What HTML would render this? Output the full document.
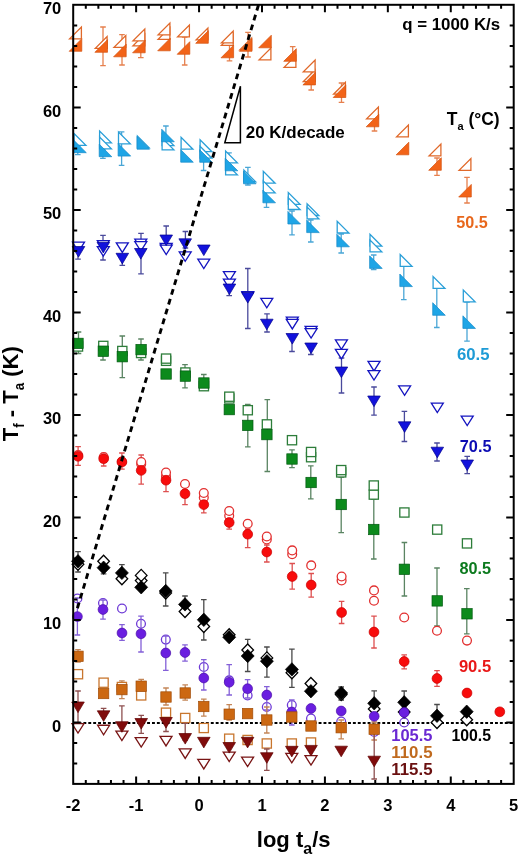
<!DOCTYPE html>
<html><head><meta charset="utf-8"><title>Tf - Ta vs log ta</title>
<style>html,body{margin:0;padding:0;background:#fff;width:520px;height:855px;overflow:hidden}svg{display:block}</style>
</head><body>
<svg width="520" height="855" viewBox="0 0 520 855">
<rect width="520" height="855" fill="#ffffff"/>
<path d="M73.6 723H512.7" stroke="#000" stroke-width="1.9" stroke-dasharray="2.9 2" fill="none"/>
<path d="M103 27V65.7M100.2 27H105.8M100.2 65.7H105.8" fill="none" stroke="#e6804e" stroke-width="1.3"/>
<path d="M95.3 48.4L107.1 48.4L107.1 36.6Z" fill="#fff" stroke="#e0692a" stroke-width="1.3"/>
<path d="M122 34.6V65M119.2 34.6H124.8M119.2 65H124.8" fill="none" stroke="#e6804e" stroke-width="1.3"/>
<path d="M114 47.4L125.8 47.4L125.8 35.6Z" fill="#fff" stroke="#e0692a" stroke-width="1.3"/>
<path d="M140.8 44V57.7M138 44H143.6M138 57.7H143.6" fill="none" stroke="#e6804e" stroke-width="1.3"/>
<path d="M133 45.9L144.8 45.9L144.8 34.1Z" fill="#fff" stroke="#e0692a" stroke-width="1.3"/>
<path d="M133 40.9L144.8 40.9L144.8 29.1Z" fill="#fff" stroke="#e0692a" stroke-width="1.3"/>
<path d="M158.1 39.4L169.9 39.4L169.9 27.6Z" fill="#fff" stroke="#e0692a" stroke-width="1.3"/>
<path d="M158.1 34.9L169.9 34.9L169.9 23.1Z" fill="#fff" stroke="#e0692a" stroke-width="1.3"/>
<path d="M184.7 37V65M181.9 37H187.5M181.9 65H187.5" fill="none" stroke="#e6804e" stroke-width="1.3"/>
<path d="M177.6 36.9L189.4 36.9L189.4 25.1Z" fill="#fff" stroke="#e0692a" stroke-width="1.3"/>
<path d="M196.1 39.9L207.9 39.9L207.9 28.1Z" fill="#fff" stroke="#e0692a" stroke-width="1.3"/>
<path d="M229.5 45V60.8M226.7 45H232.3M226.7 60.8H232.3" fill="none" stroke="#e6804e" stroke-width="1.3"/>
<path d="M221.4 45.4L233.2 45.4L233.2 33.6Z" fill="#fff" stroke="#e0692a" stroke-width="1.3"/>
<path d="M221.4 42.9L233.2 42.9L233.2 31.1Z" fill="#fff" stroke="#e0692a" stroke-width="1.3"/>
<path d="M248 32.3V57M245.2 32.3H250.8M245.2 57H250.8" fill="none" stroke="#e6804e" stroke-width="1.3"/>
<path d="M239.8 49.9L251.6 49.9L251.6 38.1Z" fill="#fff" stroke="#e0692a" stroke-width="1.3"/>
<path d="M259.1 59.9L270.9 59.9L270.9 48.1Z" fill="#fff" stroke="#e0692a" stroke-width="1.3"/>
<path d="M292.7 46.6V60M289.9 46.6H295.5M289.9 60H295.5" fill="none" stroke="#e6804e" stroke-width="1.3"/>
<path d="M284.1 67.4L295.9 67.4L295.9 55.6Z" fill="#fff" stroke="#e0692a" stroke-width="1.3"/>
<path d="M311.2 70V90M308.4 70H314M308.4 90H314" fill="none" stroke="#e6804e" stroke-width="1.3"/>
<path d="M303.3 81.7L315.1 81.7L315.1 69.9Z" fill="#fff" stroke="#e0692a" stroke-width="1.3"/>
<path d="M303.3 71.9L315.1 71.9L315.1 60.1Z" fill="#fff" stroke="#e0692a" stroke-width="1.3"/>
<path d="M341.5 83V102.3M338.7 83H344.3M338.7 102.3H344.3" fill="none" stroke="#e6804e" stroke-width="1.3"/>
<path d="M333.6 94.2L345.4 94.2L345.4 82.4Z" fill="#fff" stroke="#e0692a" stroke-width="1.3"/>
<path d="M374.5 115V131M371.7 115H377.3M371.7 131H377.3" fill="none" stroke="#e6804e" stroke-width="1.3"/>
<path d="M366.6 118.9L378.4 118.9L378.4 107.1Z" fill="#fff" stroke="#e0692a" stroke-width="1.3"/>
<path d="M396.6 136.9L408.4 136.9L408.4 125.1Z" fill="#fff" stroke="#e0692a" stroke-width="1.3"/>
<path d="M437 158V175.4M434.2 158H439.8M434.2 175.4H439.8" fill="none" stroke="#e6804e" stroke-width="1.3"/>
<path d="M429.1 155.9L440.9 155.9L440.9 144.1Z" fill="#fff" stroke="#e0692a" stroke-width="1.3"/>
<path d="M467 177.3V203M464.2 177.3H469.8M464.2 203H469.8" fill="none" stroke="#e6804e" stroke-width="1.3"/>
<path d="M459.1 170.4L470.9 170.4L470.9 158.6Z" fill="#fff" stroke="#e0692a" stroke-width="1.3"/>
<path d="M77.8 146V154.6M75 146H80.6M75 154.6H80.6" fill="none" stroke="#4aa6d6" stroke-width="1.3"/>
<path d="M74.1 133.6L74.1 145.4L85.9 145.4Z" fill="#fff" stroke="#2a9fd8" stroke-width="1.3"/>
<path d="M102.9 150V158.4M100.1 150H105.7M100.1 158.4H105.7" fill="none" stroke="#4aa6d6" stroke-width="1.3"/>
<path d="M99.6 131L99.6 142.8L111.4 142.8Z" fill="#fff" stroke="#2a9fd8" stroke-width="1.3"/>
<path d="M99.6 137L99.6 148.8L111.4 148.8Z" fill="#fff" stroke="#2a9fd8" stroke-width="1.3"/>
<path d="M121.6 131.8V165.3M118.8 131.8H124.4M118.8 165.3H124.4" fill="none" stroke="#4aa6d6" stroke-width="1.3"/>
<path d="M118.5 132.1L118.5 143.9L130.3 143.9Z" fill="#fff" stroke="#2a9fd8" stroke-width="1.3"/>
<path d="M137.4 136.1L137.4 147.9L149.2 147.9Z" fill="#fff" stroke="#2a9fd8" stroke-width="1.3"/>
<path d="M165.9 126V140M163.1 126H168.7M163.1 140H168.7" fill="none" stroke="#4aa6d6" stroke-width="1.3"/>
<path d="M162.1 133.8L162.1 145.6L173.9 145.6Z" fill="#fff" stroke="#2a9fd8" stroke-width="1.3"/>
<path d="M162.1 138.1L162.1 149.9L173.9 149.9Z" fill="#fff" stroke="#2a9fd8" stroke-width="1.3"/>
<path d="M181.1 137.4L181.1 149.2L192.9 149.2Z" fill="#fff" stroke="#2a9fd8" stroke-width="1.3"/>
<path d="M203.6 150V170.5M200.8 150H206.4M200.8 170.5H206.4" fill="none" stroke="#4aa6d6" stroke-width="1.3"/>
<path d="M200.1 139.9L200.1 151.7L211.9 151.7Z" fill="#fff" stroke="#2a9fd8" stroke-width="1.3"/>
<path d="M200.1 146.4L200.1 158.2L211.9 158.2Z" fill="#fff" stroke="#2a9fd8" stroke-width="1.3"/>
<path d="M229 152.9V165M226.2 152.9H231.8M226.2 165H231.8" fill="none" stroke="#4aa6d6" stroke-width="1.3"/>
<path d="M225.6 151.1L225.6 162.9L237.4 162.9Z" fill="#fff" stroke="#2a9fd8" stroke-width="1.3"/>
<path d="M225.6 163.1L225.6 174.9L237.4 174.9Z" fill="#fff" stroke="#2a9fd8" stroke-width="1.3"/>
<path d="M247.9 167.3V185M245.1 167.3H250.7M245.1 185H250.7" fill="none" stroke="#4aa6d6" stroke-width="1.3"/>
<path d="M243.9 170.1L243.9 181.9L255.7 181.9Z" fill="#fff" stroke="#2a9fd8" stroke-width="1.3"/>
<path d="M266.5 190V207.3M263.7 190H269.3M263.7 207.3H269.3" fill="none" stroke="#4aa6d6" stroke-width="1.3"/>
<path d="M263.3 171.4L263.3 183.2L275.1 183.2Z" fill="#fff" stroke="#2a9fd8" stroke-width="1.3"/>
<path d="M263.3 181L263.3 192.8L275.1 192.8Z" fill="#fff" stroke="#2a9fd8" stroke-width="1.3"/>
<path d="M292 211V234.8M289.2 211H294.8M289.2 234.8H294.8" fill="none" stroke="#4aa6d6" stroke-width="1.3"/>
<path d="M288.3 192.6L288.3 204.4L300.1 204.4Z" fill="#fff" stroke="#2a9fd8" stroke-width="1.3"/>
<path d="M288.3 197.7L288.3 209.5L300.1 209.5Z" fill="#fff" stroke="#2a9fd8" stroke-width="1.3"/>
<path d="M310.8 220V242M308 220H313.6M308 242H313.6" fill="none" stroke="#4aa6d6" stroke-width="1.3"/>
<path d="M307.1 203.7L307.1 215.5L318.9 215.5Z" fill="#fff" stroke="#2a9fd8" stroke-width="1.3"/>
<path d="M307.1 207L307.1 218.8L318.9 218.8Z" fill="#fff" stroke="#2a9fd8" stroke-width="1.3"/>
<path d="M341.2 234V253M338.4 234H344M338.4 253H344" fill="none" stroke="#4aa6d6" stroke-width="1.3"/>
<path d="M337.2 221.2L337.2 233L349 233Z" fill="#fff" stroke="#2a9fd8" stroke-width="1.3"/>
<path d="M373.7 255V269.6M370.9 255H376.5M370.9 269.6H376.5" fill="none" stroke="#4aa6d6" stroke-width="1.3"/>
<path d="M370 234.4L370 246.2L381.8 246.2Z" fill="#fff" stroke="#2a9fd8" stroke-width="1.3"/>
<path d="M370 240.1L370 251.9L381.8 251.9Z" fill="#fff" stroke="#2a9fd8" stroke-width="1.3"/>
<path d="M403.8 266V299.6M401 266H406.6M401 299.6H406.6" fill="none" stroke="#4aa6d6" stroke-width="1.3"/>
<path d="M400.2 254.5L400.2 266.3L412 266.3Z" fill="#fff" stroke="#2a9fd8" stroke-width="1.3"/>
<path d="M436.8 288V327.5M434 288H439.6M434 327.5H439.6" fill="none" stroke="#4aa6d6" stroke-width="1.3"/>
<path d="M433.1 276.6L433.1 288.4L444.9 288.4Z" fill="#fff" stroke="#2a9fd8" stroke-width="1.3"/>
<path d="M467 302V341.2M464.2 302H469.8M464.2 341.2H469.8" fill="none" stroke="#4aa6d6" stroke-width="1.3"/>
<path d="M463.3 290.1L463.3 301.9L475.1 301.9Z" fill="#fff" stroke="#2a9fd8" stroke-width="1.3"/>
<path d="M78 250V259.2M75.2 250H80.8M75.2 259.2H80.8" fill="none" stroke="#4a4a9c" stroke-width="1.3"/>
<path d="M72.5 242.15L84.5 242.15L78.5 251.65Z" fill="#fff" stroke="#1414c0" stroke-width="1.3"/>
<path d="M103 235.4V260M100.2 235.4H105.8M100.2 260H105.8" fill="none" stroke="#4a4a9c" stroke-width="1.3"/>
<path d="M97.3 240.65L109.3 240.65L103.3 250.15Z" fill="#fff" stroke="#1414c0" stroke-width="1.3"/>
<path d="M97.3 246.65L109.3 246.65L103.3 256.15Z" fill="#fff" stroke="#1414c0" stroke-width="1.3"/>
<path d="M122.3 255V265.4M119.5 255H125.1M119.5 265.4H125.1" fill="none" stroke="#4a4a9c" stroke-width="1.3"/>
<path d="M116.3 242.95L128.3 242.95L122.3 252.45Z" fill="#fff" stroke="#1414c0" stroke-width="1.3"/>
<path d="M141 233.4V273.8M138.2 233.4H143.8M138.2 273.8H143.8" fill="none" stroke="#4a4a9c" stroke-width="1.3"/>
<path d="M134.8 239.15L146.8 239.15L140.8 248.65Z" fill="#fff" stroke="#1414c0" stroke-width="1.3"/>
<path d="M134.8 241.65L146.8 241.65L140.8 251.15Z" fill="#fff" stroke="#1414c0" stroke-width="1.3"/>
<path d="M166.2 226V240M163.4 226H169M163.4 240H169" fill="none" stroke="#4a4a9c" stroke-width="1.3"/>
<path d="M160.2 243.35L172.2 243.35L166.2 252.85Z" fill="#fff" stroke="#1414c0" stroke-width="1.3"/>
<path d="M160.2 245.15L172.2 245.15L166.2 254.65Z" fill="#fff" stroke="#1414c0" stroke-width="1.3"/>
<path d="M185.4 231.5V248M182.6 231.5H188.2M182.6 248H188.2" fill="none" stroke="#4a4a9c" stroke-width="1.3"/>
<path d="M179.2 251.85L191.2 251.85L185.2 261.35Z" fill="#fff" stroke="#1414c0" stroke-width="1.3"/>
<path d="M197.8 259.15L209.8 259.15L203.8 268.65Z" fill="#fff" stroke="#1414c0" stroke-width="1.3"/>
<path d="M229.2 285V295.7M226.4 285H232M226.4 295.7H232" fill="none" stroke="#4a4a9c" stroke-width="1.3"/>
<path d="M223.4 271.65L235.4 271.65L229.4 281.15Z" fill="#fff" stroke="#1414c0" stroke-width="1.3"/>
<path d="M223.4 279.15L235.4 279.15L229.4 288.65Z" fill="#fff" stroke="#1414c0" stroke-width="1.3"/>
<path d="M247.8 268.5V328.5M245 268.5H250.6M245 328.5H250.6" fill="none" stroke="#4a4a9c" stroke-width="1.3"/>
<path d="M241.8 291.65L253.8 291.65L247.8 301.15Z" fill="#fff" stroke="#1414c0" stroke-width="1.3"/>
<path d="M267 313.8V332M264.2 313.8H269.8M264.2 332H269.8" fill="none" stroke="#4a4a9c" stroke-width="1.3"/>
<path d="M260.8 298.35L272.8 298.35L266.8 307.85Z" fill="#fff" stroke="#1414c0" stroke-width="1.3"/>
<path d="M292 335V351.5M289.2 335H294.8M289.2 351.5H294.8" fill="none" stroke="#4a4a9c" stroke-width="1.3"/>
<path d="M286.3 317.15L298.3 317.15L292.3 326.65Z" fill="#fff" stroke="#1414c0" stroke-width="1.3"/>
<path d="M286.3 319.45L298.3 319.45L292.3 328.95Z" fill="#fff" stroke="#1414c0" stroke-width="1.3"/>
<path d="M310.8 345V354.5M308 345H313.6M308 354.5H313.6" fill="none" stroke="#4a4a9c" stroke-width="1.3"/>
<path d="M305.1 326.45L317.1 326.45L311.1 335.95Z" fill="#fff" stroke="#1414c0" stroke-width="1.3"/>
<path d="M305.1 328.65L317.1 328.65L311.1 338.15Z" fill="#fff" stroke="#1414c0" stroke-width="1.3"/>
<path d="M341.5 358V393M338.7 358H344.3M338.7 393H344.3" fill="none" stroke="#4a4a9c" stroke-width="1.3"/>
<path d="M335.4 339.85L347.4 339.85L341.4 349.35Z" fill="#fff" stroke="#1414c0" stroke-width="1.3"/>
<path d="M335.4 349.45L347.4 349.45L341.4 358.95Z" fill="#fff" stroke="#1414c0" stroke-width="1.3"/>
<path d="M374 387V415.2M371.2 387H376.8M371.2 415.2H376.8" fill="none" stroke="#4a4a9c" stroke-width="1.3"/>
<path d="M368 361.45L380 361.45L374 370.95Z" fill="#fff" stroke="#1414c0" stroke-width="1.3"/>
<path d="M368 370.65L380 370.65L374 380.15Z" fill="#fff" stroke="#1414c0" stroke-width="1.3"/>
<path d="M404.4 411.3V441.5M401.6 411.3H407.2M401.6 441.5H407.2" fill="none" stroke="#4a4a9c" stroke-width="1.3"/>
<path d="M398.6 385.85L410.6 385.85L404.6 395.35Z" fill="#fff" stroke="#1414c0" stroke-width="1.3"/>
<path d="M437 443V461M434.2 443H439.8M434.2 461H439.8" fill="none" stroke="#4a4a9c" stroke-width="1.3"/>
<path d="M431.3 403.05L443.3 403.05L437.3 412.55Z" fill="#fff" stroke="#1414c0" stroke-width="1.3"/>
<path d="M467.2 456.3V473.7M464.4 456.3H470M464.4 473.7H470" fill="none" stroke="#4a4a9c" stroke-width="1.3"/>
<path d="M461.2 416.15L473.2 416.15L467.2 425.65Z" fill="#fff" stroke="#1414c0" stroke-width="1.3"/>
<path d="M78.5 332V353.5M75.7 332H81.3M75.7 353.5H81.3" fill="none" stroke="#5a8462" stroke-width="1.3"/>
<rect x="73.4" y="341.9" width="9.2" height="9.2" fill="#fff" stroke="#2d7d3a" stroke-width="1.3"/>
<path d="M103 345V360M100.2 345H105.8M100.2 360H105.8" fill="none" stroke="#5a8462" stroke-width="1.3"/>
<rect x="98.7" y="341.3" width="9.2" height="9.2" fill="#fff" stroke="#2d7d3a" stroke-width="1.3"/>
<path d="M122.3 336V377.6M119.5 336H125.1M119.5 377.6H125.1" fill="none" stroke="#5a8462" stroke-width="1.3"/>
<rect x="117.7" y="346.4" width="9.2" height="9.2" fill="#fff" stroke="#2d7d3a" stroke-width="1.3"/>
<path d="M141 339V360M138.2 339H143.8M138.2 360H143.8" fill="none" stroke="#5a8462" stroke-width="1.3"/>
<rect x="136.5" y="348.4" width="9.2" height="9.2" fill="#fff" stroke="#2d7d3a" stroke-width="1.3"/>
<rect x="161.5" y="356.2" width="9.2" height="9.2" fill="#fff" stroke="#2d7d3a" stroke-width="1.3"/>
<rect x="161.5" y="354" width="9.2" height="9.2" fill="#fff" stroke="#2d7d3a" stroke-width="1.3"/>
<path d="M185 364.7V387.8M182.2 364.7H187.8M182.2 387.8H187.8" fill="none" stroke="#5a8462" stroke-width="1.3"/>
<rect x="180.8" y="367.9" width="9.2" height="9.2" fill="#fff" stroke="#2d7d3a" stroke-width="1.3"/>
<path d="M203.8 374.5V390M201 374.5H206.6M201 390H206.6" fill="none" stroke="#5a8462" stroke-width="1.3"/>
<rect x="199.3" y="381.6" width="9.2" height="9.2" fill="#fff" stroke="#2d7d3a" stroke-width="1.3"/>
<rect x="224.7" y="393.9" width="9.2" height="9.2" fill="#fff" stroke="#2d7d3a" stroke-width="1.3"/>
<rect x="224.7" y="392.1" width="9.2" height="9.2" fill="#fff" stroke="#2d7d3a" stroke-width="1.3"/>
<path d="M247.8 404.3V446.8M245 404.3H250.6M245 446.8H250.6" fill="none" stroke="#5a8462" stroke-width="1.3"/>
<rect x="243.2" y="405.6" width="9.2" height="9.2" fill="#fff" stroke="#2d7d3a" stroke-width="1.3"/>
<path d="M267.3 399.6V471.5M264.5 399.6H270.1M264.5 471.5H270.1" fill="none" stroke="#5a8462" stroke-width="1.3"/>
<rect x="262.3" y="419.8" width="9.2" height="9.2" fill="#fff" stroke="#2d7d3a" stroke-width="1.3"/>
<path d="M292 449.8V467.7M289.2 449.8H294.8M289.2 467.7H294.8" fill="none" stroke="#5a8462" stroke-width="1.3"/>
<rect x="287.4" y="435.6" width="9.2" height="9.2" fill="#fff" stroke="#2d7d3a" stroke-width="1.3"/>
<path d="M310.8 465.8V498.8M308 465.8H313.6M308 498.8H313.6" fill="none" stroke="#5a8462" stroke-width="1.3"/>
<rect x="306.5" y="452.6" width="9.2" height="9.2" fill="#fff" stroke="#2d7d3a" stroke-width="1.3"/>
<rect x="306.5" y="447.4" width="9.2" height="9.2" fill="#fff" stroke="#2d7d3a" stroke-width="1.3"/>
<path d="M341.2 477V532.7M338.4 477H344M338.4 532.7H344" fill="none" stroke="#5a8462" stroke-width="1.3"/>
<rect x="336.6" y="467.8" width="9.2" height="9.2" fill="#fff" stroke="#2d7d3a" stroke-width="1.3"/>
<rect x="336.6" y="465.5" width="9.2" height="9.2" fill="#fff" stroke="#2d7d3a" stroke-width="1.3"/>
<path d="M373.8 499V559M371 499H376.6M371 559H376.6" fill="none" stroke="#5a8462" stroke-width="1.3"/>
<rect x="369.2" y="490" width="9.2" height="9.2" fill="#fff" stroke="#2d7d3a" stroke-width="1.3"/>
<rect x="369.2" y="480.9" width="9.2" height="9.2" fill="#fff" stroke="#2d7d3a" stroke-width="1.3"/>
<path d="M404.4 542.5V596M401.6 542.5H407.2M401.6 596H407.2" fill="none" stroke="#5a8462" stroke-width="1.3"/>
<rect x="399.8" y="507.9" width="9.2" height="9.2" fill="#fff" stroke="#2d7d3a" stroke-width="1.3"/>
<path d="M437 568V626M434.2 568H439.8M434.2 626H439.8" fill="none" stroke="#5a8462" stroke-width="1.3"/>
<rect x="432.6" y="525" width="9.2" height="9.2" fill="#fff" stroke="#2d7d3a" stroke-width="1.3"/>
<path d="M466.8 588.6V633.8M464 588.6H469.6M464 633.8H469.6" fill="none" stroke="#5a8462" stroke-width="1.3"/>
<rect x="462.4" y="538.8" width="9.2" height="9.2" fill="#fff" stroke="#2d7d3a" stroke-width="1.3"/>
<path d="M78.1 446.7V465.4M75.3 446.7H80.9M75.3 465.4H80.9" fill="none" stroke="#de5050" stroke-width="1.3"/>
<circle cx="78.1" cy="455" r="4.4" fill="#fff" stroke="#e23030" stroke-width="1.3"/>
<path d="M103.7 453.5V466M100.9 453.5H106.5M100.9 466H106.5" fill="none" stroke="#de5050" stroke-width="1.3"/>
<circle cx="103.7" cy="457" r="4.4" fill="#fff" stroke="#e23030" stroke-width="1.3"/>
<path d="M121.9 453V469.2M119.1 453H124.7M119.1 469.2H124.7" fill="none" stroke="#de5050" stroke-width="1.3"/>
<circle cx="121.9" cy="461.5" r="4.4" fill="#fff" stroke="#e23030" stroke-width="1.3"/>
<path d="M141.2 455V484.2M138.4 455H144M138.4 484.2H144" fill="none" stroke="#de5050" stroke-width="1.3"/>
<circle cx="141.2" cy="464" r="4.4" fill="#fff" stroke="#e23030" stroke-width="1.3"/>
<circle cx="141.2" cy="462.1" r="4.4" fill="#fff" stroke="#e23030" stroke-width="1.3"/>
<path d="M166 475V491.7M163.2 475H168.8M163.2 491.7H168.8" fill="none" stroke="#de5050" stroke-width="1.3"/>
<circle cx="166" cy="476.3" r="4.4" fill="#fff" stroke="#e23030" stroke-width="1.3"/>
<circle cx="166" cy="472.5" r="4.4" fill="#fff" stroke="#e23030" stroke-width="1.3"/>
<path d="M185 490V504.6M182.2 490H187.8M182.2 504.6H187.8" fill="none" stroke="#de5050" stroke-width="1.3"/>
<circle cx="185" cy="484" r="4.4" fill="#fff" stroke="#e23030" stroke-width="1.3"/>
<path d="M203.8 500V512.9M201 500H206.6M201 512.9H206.6" fill="none" stroke="#de5050" stroke-width="1.3"/>
<circle cx="203.8" cy="497.5" r="4.4" fill="#fff" stroke="#e23030" stroke-width="1.3"/>
<circle cx="203.8" cy="493" r="4.4" fill="#fff" stroke="#e23030" stroke-width="1.3"/>
<path d="M229.2 518V529.2M226.4 518H232M226.4 529.2H232" fill="none" stroke="#de5050" stroke-width="1.3"/>
<circle cx="229.2" cy="515.8" r="4.4" fill="#fff" stroke="#e23030" stroke-width="1.3"/>
<circle cx="229.2" cy="511" r="4.4" fill="#fff" stroke="#e23030" stroke-width="1.3"/>
<path d="M247.7 529V547.6M244.9 529H250.5M244.9 547.6H250.5" fill="none" stroke="#de5050" stroke-width="1.3"/>
<circle cx="247.7" cy="523.8" r="4.4" fill="#fff" stroke="#e23030" stroke-width="1.3"/>
<path d="M266.8 545V562M264 545H269.6M264 562H269.6" fill="none" stroke="#de5050" stroke-width="1.3"/>
<circle cx="266.8" cy="539.5" r="4.4" fill="#fff" stroke="#e23030" stroke-width="1.3"/>
<circle cx="266.8" cy="536.5" r="4.4" fill="#fff" stroke="#e23030" stroke-width="1.3"/>
<path d="M292.2 563.5V589.2M289.4 563.5H295M289.4 589.2H295" fill="none" stroke="#de5050" stroke-width="1.3"/>
<circle cx="292.2" cy="554.3" r="4.4" fill="#fff" stroke="#e23030" stroke-width="1.3"/>
<circle cx="292.2" cy="550.4" r="4.4" fill="#fff" stroke="#e23030" stroke-width="1.3"/>
<path d="M311.2 573.5V597.2M308.4 573.5H314M308.4 597.2H314" fill="none" stroke="#de5050" stroke-width="1.3"/>
<circle cx="311.2" cy="565.4" r="4.4" fill="#fff" stroke="#e23030" stroke-width="1.3"/>
<path d="M341.6 601.3V623.5M338.8 601.3H344.4M338.8 623.5H344.4" fill="none" stroke="#de5050" stroke-width="1.3"/>
<circle cx="341.6" cy="580.4" r="4.4" fill="#fff" stroke="#e23030" stroke-width="1.3"/>
<circle cx="341.6" cy="576.5" r="4.4" fill="#fff" stroke="#e23030" stroke-width="1.3"/>
<path d="M374 616.2V648M371.2 616.2H376.8M371.2 648H376.8" fill="none" stroke="#de5050" stroke-width="1.3"/>
<circle cx="374" cy="600.8" r="4.4" fill="#fff" stroke="#e23030" stroke-width="1.3"/>
<circle cx="374" cy="590.4" r="4.4" fill="#fff" stroke="#e23030" stroke-width="1.3"/>
<path d="M404.2 654.8V668.8M401.4 654.8H407M401.4 668.8H407" fill="none" stroke="#de5050" stroke-width="1.3"/>
<circle cx="404.2" cy="617.5" r="4.4" fill="#fff" stroke="#e23030" stroke-width="1.3"/>
<path d="M437 670.7V686.4M434.2 670.7H439.8M434.2 686.4H439.8" fill="none" stroke="#de5050" stroke-width="1.3"/>
<circle cx="437" cy="630.7" r="4.4" fill="#fff" stroke="#e23030" stroke-width="1.3"/>
<circle cx="467" cy="640.6" r="4.4" fill="#fff" stroke="#e23030" stroke-width="1.3"/>
<path d="M78 551.7V572M75.2 551.7H80.8M75.2 572H80.8" fill="none" stroke="#4a4a4a" stroke-width="1.3"/>
<path d="M78 558.2L83.8 564.2L78 570.2L72.2 564.2Z" fill="#fff" stroke="#000000" stroke-width="1.3"/>
<path d="M103.6 562V573.8M100.8 562H106.4M100.8 573.8H106.4" fill="none" stroke="#4a4a4a" stroke-width="1.3"/>
<path d="M103.6 555.3L109.4 561.3L103.6 567.3L97.8 561.3Z" fill="#fff" stroke="#000000" stroke-width="1.3"/>
<path d="M121.9 564.6V580M119.1 564.6H124.7M119.1 580H124.7" fill="none" stroke="#4a4a4a" stroke-width="1.3"/>
<path d="M121.9 572.7L127.7 578.7L121.9 584.7L116.1 578.7Z" fill="#fff" stroke="#000000" stroke-width="1.3"/>
<path d="M141.2 574.6L147 580.6L141.2 586.6L135.4 580.6Z" fill="#fff" stroke="#000000" stroke-width="1.3"/>
<path d="M141.2 569.4L147 575.4L141.2 581.4L135.4 575.4Z" fill="#fff" stroke="#000000" stroke-width="1.3"/>
<path d="M165.7 572.9V606M162.9 572.9H168.5M162.9 606H168.5" fill="none" stroke="#4a4a4a" stroke-width="1.3"/>
<path d="M165.7 587L171.5 593L165.7 599L159.9 593Z" fill="#fff" stroke="#000000" stroke-width="1.3"/>
<path d="M185 596V610M182.2 596H187.8M182.2 610H187.8" fill="none" stroke="#4a4a4a" stroke-width="1.3"/>
<path d="M185 605.5L190.8 611.5L185 617.5L179.2 611.5Z" fill="#fff" stroke="#000000" stroke-width="1.3"/>
<path d="M203.8 599.6V640M201 599.6H206.6M201 640H206.6" fill="none" stroke="#4a4a4a" stroke-width="1.3"/>
<path d="M203.8 620.5L209.6 626.5L203.8 632.5L198 626.5Z" fill="#fff" stroke="#000000" stroke-width="1.3"/>
<path d="M229.2 628.7L235 634.7L229.2 640.7L223.4 634.7Z" fill="#fff" stroke="#000000" stroke-width="1.3"/>
<path d="M247.7 639.4V671.5M244.9 639.4H250.5M244.9 671.5H250.5" fill="none" stroke="#4a4a4a" stroke-width="1.3"/>
<path d="M247.7 644L253.5 650L247.7 656L241.9 650Z" fill="#fff" stroke="#000000" stroke-width="1.3"/>
<path d="M266.9 647V677.1M264.1 647H269.7M264.1 677.1H269.7" fill="none" stroke="#4a4a4a" stroke-width="1.3"/>
<path d="M266.9 651.9L272.7 657.9L266.9 663.9L261.1 657.9Z" fill="#fff" stroke="#000000" stroke-width="1.3"/>
<path d="M291.9 649.2V687.3M289.1 649.2H294.7M289.1 687.3H294.7" fill="none" stroke="#4a4a4a" stroke-width="1.3"/>
<path d="M291.9 666.7L297.7 672.7L291.9 678.7L286.1 672.7Z" fill="#fff" stroke="#000000" stroke-width="1.3"/>
<path d="M310.9 677.5L316.7 683.5L310.9 689.5L305.1 683.5Z" fill="#fff" stroke="#000000" stroke-width="1.3"/>
<path d="M341.2 687V700M338.4 687H344M338.4 700H344" fill="none" stroke="#4a4a4a" stroke-width="1.3"/>
<path d="M341.2 688.6L347 694.6L341.2 700.6L335.4 694.6Z" fill="#fff" stroke="#000000" stroke-width="1.3"/>
<path d="M374.2 690.8V710M371.4 690.8H377M371.4 710H377" fill="none" stroke="#4a4a4a" stroke-width="1.3"/>
<path d="M374.2 703L380 709L374.2 715L368.4 709Z" fill="#fff" stroke="#000000" stroke-width="1.3"/>
<path d="M404.2 691V710M401.4 691H407M401.4 710H407" fill="none" stroke="#4a4a4a" stroke-width="1.3"/>
<path d="M404.2 706L410 712L404.2 718L398.4 712Z" fill="#fff" stroke="#000000" stroke-width="1.3"/>
<path d="M437 704.5V720M434.2 704.5H439.8M434.2 720H439.8" fill="none" stroke="#4a4a4a" stroke-width="1.3"/>
<path d="M437 716.5L442.8 722.5L437 728.5L431.2 722.5Z" fill="#fff" stroke="#000000" stroke-width="1.3"/>
<path d="M466.7 713.8L472.5 719.8L466.7 725.8L460.9 719.8Z" fill="#fff" stroke="#000000" stroke-width="1.3"/>
<circle cx="77.4" cy="598.5" r="4.4" fill="none" stroke="#6e3ad6" stroke-width="1.3"/>
<path d="M77.4 598V635M74.6 598H80.2M74.6 635H80.2" fill="none" stroke="#8460d8" stroke-width="1.3"/>
<circle cx="103" cy="603" r="4.4" fill="none" stroke="#6e3ad6" stroke-width="1.3"/>
<path d="M103 600V619.2M100.2 600H105.8M100.2 619.2H105.8" fill="none" stroke="#8460d8" stroke-width="1.3"/>
<circle cx="122" cy="608.5" r="4.4" fill="none" stroke="#6e3ad6" stroke-width="1.3"/>
<path d="M122 624.6V640.3M119.2 624.6H124.8M119.2 640.3H124.8" fill="none" stroke="#8460d8" stroke-width="1.3"/>
<circle cx="141" cy="623.8" r="4.4" fill="none" stroke="#6e3ad6" stroke-width="1.3"/>
<path d="M141 616.2V652M138.2 616.2H143.8M138.2 652H143.8" fill="none" stroke="#8460d8" stroke-width="1.3"/>
<circle cx="165.8" cy="639.6" r="4.4" fill="none" stroke="#6e3ad6" stroke-width="1.3"/>
<path d="M165.8 636V670.4M163 636H168.6M163 670.4H168.6" fill="none" stroke="#8460d8" stroke-width="1.3"/>
<path d="M185 644.8V661.2M182.2 644.8H187.8M182.2 661.2H187.8" fill="none" stroke="#8460d8" stroke-width="1.3"/>
<circle cx="203.8" cy="667" r="4.4" fill="none" stroke="#6e3ad6" stroke-width="1.3"/>
<path d="M203.8 659.6V690M201 659.6H206.6M201 690H206.6" fill="none" stroke="#8460d8" stroke-width="1.3"/>
<circle cx="229.2" cy="680.4" r="4.4" fill="none" stroke="#6e3ad6" stroke-width="1.3"/>
<path d="M229.2 664.6V695M226.4 664.6H232M226.4 695H232" fill="none" stroke="#8460d8" stroke-width="1.3"/>
<circle cx="247.6" cy="695.4" r="4.4" fill="none" stroke="#6e3ad6" stroke-width="1.3"/>
<path d="M247.6 679.6V698M244.8 679.6H250.4M244.8 698H250.4" fill="none" stroke="#8460d8" stroke-width="1.3"/>
<circle cx="266.8" cy="707" r="4.4" fill="none" stroke="#6e3ad6" stroke-width="1.3"/>
<path d="M266.8 686.7V710M264 686.7H269.6M264 710H269.6" fill="none" stroke="#8460d8" stroke-width="1.3"/>
<circle cx="291.8" cy="705" r="4.4" fill="none" stroke="#6e3ad6" stroke-width="1.3"/>
<path d="M291.8 700V725M289 700H294.6M289 725H294.6" fill="none" stroke="#8460d8" stroke-width="1.3"/>
<circle cx="311" cy="718.5" r="4.4" fill="none" stroke="#6e3ad6" stroke-width="1.3"/>
<circle cx="341.2" cy="721.5" r="4.4" fill="none" stroke="#6e3ad6" stroke-width="1.3"/>
<circle cx="374.2" cy="732" r="4.4" fill="none" stroke="#6e3ad6" stroke-width="1.3"/>
<circle cx="404.2" cy="722.5" r="4.4" fill="none" stroke="#6e3ad6" stroke-width="1.3"/>
<path d="M78 649.6V662M75.2 649.6H80.8M75.2 662H80.8" fill="none" stroke="#c48658" stroke-width="1.3"/>
<rect x="73.4" y="669.6" width="9.2" height="9.2" fill="#fff" stroke="#c8762e" stroke-width="1.3"/>
<rect x="99" y="678.1" width="9.2" height="9.2" fill="#fff" stroke="#c8762e" stroke-width="1.3"/>
<path d="M121.9 680.8V698.7M119.1 680.8H124.7M119.1 698.7H124.7" fill="none" stroke="#c48658" stroke-width="1.3"/>
<rect x="117.3" y="682.4" width="9.2" height="9.2" fill="#fff" stroke="#c8762e" stroke-width="1.3"/>
<path d="M141.2 679.4V690M138.4 679.4H144M138.4 690H144" fill="none" stroke="#c48658" stroke-width="1.3"/>
<rect x="136.6" y="690.8" width="9.2" height="9.2" fill="#fff" stroke="#c8762e" stroke-width="1.3"/>
<path d="M166 688V705M163.2 688H168.8M163.2 705H168.8" fill="none" stroke="#c48658" stroke-width="1.3"/>
<rect x="161.4" y="708.1" width="9.2" height="9.2" fill="#fff" stroke="#c8762e" stroke-width="1.3"/>
<path d="M185.2 684.8V700.2M182.4 684.8H188M182.4 700.2H188" fill="none" stroke="#c48658" stroke-width="1.3"/>
<rect x="180.6" y="713.4" width="9.2" height="9.2" fill="#fff" stroke="#c8762e" stroke-width="1.3"/>
<path d="M203.8 699.2V716.2M201 699.2H206.6M201 716.2H206.6" fill="none" stroke="#c48658" stroke-width="1.3"/>
<rect x="199.2" y="723.4" width="9.2" height="9.2" fill="#fff" stroke="#c8762e" stroke-width="1.3"/>
<path d="M229.2 704.6V720M226.4 704.6H232M226.4 720H232" fill="none" stroke="#c48658" stroke-width="1.3"/>
<rect x="224.6" y="734.1" width="9.2" height="9.2" fill="#fff" stroke="#c8762e" stroke-width="1.3"/>
<rect x="243" y="735.4" width="9.2" height="9.2" fill="#fff" stroke="#c8762e" stroke-width="1.3"/>
<path d="M266.8 707V733M264 707H269.6M264 733H269.6" fill="none" stroke="#c48658" stroke-width="1.3"/>
<rect x="262.2" y="738.9" width="9.2" height="9.2" fill="#fff" stroke="#c8762e" stroke-width="1.3"/>
<rect x="287.2" y="738.9" width="9.2" height="9.2" fill="#fff" stroke="#c8762e" stroke-width="1.3"/>
<rect x="306.4" y="737.9" width="9.2" height="9.2" fill="#fff" stroke="#c8762e" stroke-width="1.3"/>
<path d="M341.2 720V738.8M338.4 720H344M338.4 738.8H344" fill="none" stroke="#c48658" stroke-width="1.3"/>
<path d="M374.2 722V740M371.4 722H377M371.4 740H377" fill="none" stroke="#c48658" stroke-width="1.3"/>
<path d="M78 691V722.7M75.2 691H80.8M75.2 722.7H80.8" fill="none" stroke="#8e5050" stroke-width="1.3"/>
<path d="M72 723.65L84 723.65L78 733.15Z" fill="#fff" stroke="#781414" stroke-width="1.3"/>
<path d="M103.6 708.3V716M100.8 708.3H106.4M100.8 716H106.4" fill="none" stroke="#8e5050" stroke-width="1.3"/>
<path d="M97.6 725.25L109.6 725.25L103.6 734.75Z" fill="#fff" stroke="#781414" stroke-width="1.3"/>
<path d="M121.9 705.8V725M119.1 705.8H124.7M119.1 725H124.7" fill="none" stroke="#8e5050" stroke-width="1.3"/>
<path d="M115.9 731.05L127.9 731.05L121.9 740.55Z" fill="#fff" stroke="#781414" stroke-width="1.3"/>
<path d="M141.2 715.4V733.3M138.4 715.4H144M138.4 733.3H144" fill="none" stroke="#8e5050" stroke-width="1.3"/>
<path d="M135.2 737.65L147.2 737.65L141.2 747.15Z" fill="#fff" stroke="#781414" stroke-width="1.3"/>
<path d="M166 720V731.5M163.2 720H168.8M163.2 731.5H168.8" fill="none" stroke="#8e5050" stroke-width="1.3"/>
<path d="M160 736.45L172 736.45L166 745.95Z" fill="#fff" stroke="#781414" stroke-width="1.3"/>
<path d="M185.2 723.3V740M182.4 723.3H188M182.4 740H188" fill="none" stroke="#8e5050" stroke-width="1.3"/>
<path d="M179.2 748.95L191.2 748.95L185.2 758.45Z" fill="#fff" stroke="#781414" stroke-width="1.3"/>
<path d="M197.8 759.45L209.8 759.45L203.8 768.95Z" fill="#fff" stroke="#781414" stroke-width="1.3"/>
<path d="M223.2 752.15L235.2 752.15L229.2 761.65Z" fill="#fff" stroke="#781414" stroke-width="1.3"/>
<path d="M241.6 757.15L253.6 757.15L247.6 766.65Z" fill="#fff" stroke="#781414" stroke-width="1.3"/>
<path d="M266.8 749V770.4M264 749H269.6M264 770.4H269.6" fill="none" stroke="#8e5050" stroke-width="1.3"/>
<path d="M285.8 753.35L297.8 753.35L291.8 762.85Z" fill="#fff" stroke="#781414" stroke-width="1.3"/>
<path d="M305 755.65L317 755.65L311 765.15Z" fill="#fff" stroke="#781414" stroke-width="1.3"/>
<path d="M374.2 730V779M371.4 730H377M371.4 779H377" fill="none" stroke="#8e5050" stroke-width="1.3"/>
<path d="M69.2 51.3L81.8 51.3L81.8 38.7Z" fill="#f26318" stroke="#d4520e" stroke-width="0.7"/>
<path d="M94.9 52.3L107.5 52.3L107.5 39.7Z" fill="#f26318" stroke="#d4520e" stroke-width="0.7"/>
<path d="M113.6 56.8L126.2 56.8L126.2 44.2Z" fill="#f26318" stroke="#d4520e" stroke-width="0.7"/>
<path d="M132.6 52.8L145.2 52.8L145.2 40.2Z" fill="#f26318" stroke="#d4520e" stroke-width="0.7"/>
<path d="M157.7 50.8L170.3 50.8L170.3 38.2Z" fill="#f26318" stroke="#d4520e" stroke-width="0.7"/>
<path d="M177.2 54.3L189.8 54.3L189.8 41.7Z" fill="#f26318" stroke="#d4520e" stroke-width="0.7"/>
<path d="M195.7 43.3L208.3 43.3L208.3 30.7Z" fill="#f26318" stroke="#d4520e" stroke-width="0.7"/>
<path d="M221 57.8L233.6 57.8L233.6 45.2Z" fill="#f26318" stroke="#d4520e" stroke-width="0.7"/>
<path d="M239.4 51.3L252 51.3L252 38.7Z" fill="#f26318" stroke="#d4520e" stroke-width="0.7"/>
<path d="M258.7 47.8L271.3 47.8L271.3 35.2Z" fill="#f26318" stroke="#d4520e" stroke-width="0.7"/>
<path d="M283.7 61.3L296.3 61.3L296.3 48.7Z" fill="#f26318" stroke="#d4520e" stroke-width="0.7"/>
<path d="M302.9 84.9L315.5 84.9L315.5 72.3Z" fill="#f26318" stroke="#d4520e" stroke-width="0.7"/>
<path d="M333.2 97.5L345.8 97.5L345.8 84.9Z" fill="#f26318" stroke="#d4520e" stroke-width="0.7"/>
<path d="M366.2 126.8L378.8 126.8L378.8 114.2Z" fill="#f26318" stroke="#d4520e" stroke-width="0.7"/>
<path d="M396.2 154.8L408.8 154.8L408.8 142.2Z" fill="#f26318" stroke="#d4520e" stroke-width="0.7"/>
<path d="M428.7 170.3L441.3 170.3L441.3 157.7Z" fill="#f26318" stroke="#d4520e" stroke-width="0.7"/>
<path d="M458.7 197L471.3 197L471.3 184.4Z" fill="#f26318" stroke="#d4520e" stroke-width="0.7"/>
<path d="M73.7 140.1L73.7 152.7L86.3 152.7Z" fill="#1ea5e6" stroke="#168ac8" stroke-width="0.7"/>
<path d="M99.2 144.1L99.2 156.7L111.8 156.7Z" fill="#1ea5e6" stroke="#168ac8" stroke-width="0.7"/>
<path d="M118.1 143.5L118.1 156.1L130.7 156.1Z" fill="#1ea5e6" stroke="#168ac8" stroke-width="0.7"/>
<path d="M137 136.6L137 149.2L149.6 149.2Z" fill="#1ea5e6" stroke="#168ac8" stroke-width="0.7"/>
<path d="M161.7 129.2L161.7 141.8L174.3 141.8Z" fill="#1ea5e6" stroke="#168ac8" stroke-width="0.7"/>
<path d="M180.7 149.6L180.7 162.2L193.3 162.2Z" fill="#1ea5e6" stroke="#168ac8" stroke-width="0.7"/>
<path d="M199.7 149.7L199.7 162.3L212.3 162.3Z" fill="#1ea5e6" stroke="#168ac8" stroke-width="0.7"/>
<path d="M225.2 158.2L225.2 170.8L237.8 170.8Z" fill="#1ea5e6" stroke="#168ac8" stroke-width="0.7"/>
<path d="M243.5 171.2L243.5 183.8L256.1 183.8Z" fill="#1ea5e6" stroke="#168ac8" stroke-width="0.7"/>
<path d="M262.9 190.2L262.9 202.8L275.5 202.8Z" fill="#1ea5e6" stroke="#168ac8" stroke-width="0.7"/>
<path d="M287.9 211.4L287.9 224L300.5 224Z" fill="#1ea5e6" stroke="#168ac8" stroke-width="0.7"/>
<path d="M306.7 220L306.7 232.6L319.3 232.6Z" fill="#1ea5e6" stroke="#168ac8" stroke-width="0.7"/>
<path d="M336.8 234.2L336.8 246.8L349.4 246.8Z" fill="#1ea5e6" stroke="#168ac8" stroke-width="0.7"/>
<path d="M369.6 255.8L369.6 268.4L382.2 268.4Z" fill="#1ea5e6" stroke="#168ac8" stroke-width="0.7"/>
<path d="M399.8 274L399.8 286.6L412.4 286.6Z" fill="#1ea5e6" stroke="#168ac8" stroke-width="0.7"/>
<path d="M432.7 302.7L432.7 315.3L445.3 315.3Z" fill="#1ea5e6" stroke="#168ac8" stroke-width="0.7"/>
<path d="M462.9 315.8L462.9 328.4L475.5 328.4Z" fill="#1ea5e6" stroke="#168ac8" stroke-width="0.7"/>
<path d="M72.2 246.5L84.8 246.5L78.5 257.1Z" fill="#1212dc" stroke="#00008c" stroke-width="0.7"/>
<path d="M97 242.3L109.6 242.3L103.3 252.9Z" fill="#1212dc" stroke="#00008c" stroke-width="0.7"/>
<path d="M116 253.3L128.6 253.3L122.3 263.9Z" fill="#1212dc" stroke="#00008c" stroke-width="0.7"/>
<path d="M134.5 248.5L147.1 248.5L140.8 259.1Z" fill="#1212dc" stroke="#00008c" stroke-width="0.7"/>
<path d="M159.9 235L172.5 235L166.2 245.6Z" fill="#1212dc" stroke="#00008c" stroke-width="0.7"/>
<path d="M178.9 238.8L191.5 238.8L185.2 249.4Z" fill="#1212dc" stroke="#00008c" stroke-width="0.7"/>
<path d="M197.5 245L210.1 245L203.8 255.6Z" fill="#1212dc" stroke="#00008c" stroke-width="0.7"/>
<path d="M223.1 284L235.7 284L229.4 294.6Z" fill="#1212dc" stroke="#00008c" stroke-width="0.7"/>
<path d="M241.5 292.5L254.1 292.5L247.8 303.1Z" fill="#1212dc" stroke="#00008c" stroke-width="0.7"/>
<path d="M260.5 319.2L273.1 319.2L266.8 329.8Z" fill="#1212dc" stroke="#00008c" stroke-width="0.7"/>
<path d="M286 333.5L298.6 333.5L292.3 344.1Z" fill="#1212dc" stroke="#00008c" stroke-width="0.7"/>
<path d="M304.8 343L317.4 343L311.1 353.6Z" fill="#1212dc" stroke="#00008c" stroke-width="0.7"/>
<path d="M335.1 367L347.7 367L341.4 377.6Z" fill="#1212dc" stroke="#00008c" stroke-width="0.7"/>
<path d="M367.7 396L380.3 396L374 406.6Z" fill="#1212dc" stroke="#00008c" stroke-width="0.7"/>
<path d="M398.3 421.8L410.9 421.8L404.6 432.4Z" fill="#1212dc" stroke="#00008c" stroke-width="0.7"/>
<path d="M431 447.2L443.6 447.2L437.3 457.8Z" fill="#1212dc" stroke="#00008c" stroke-width="0.7"/>
<path d="M460.9 460L473.5 460L467.2 470.6Z" fill="#1212dc" stroke="#00008c" stroke-width="0.7"/>
<rect x="72.8" y="338.2" width="10.4" height="10.4" fill="#0c8a1c" stroke="#005a10" stroke-width="0.7"/>
<rect x="98.1" y="346" width="10.4" height="10.4" fill="#0c8a1c" stroke="#005a10" stroke-width="0.7"/>
<rect x="117.1" y="351.5" width="10.4" height="10.4" fill="#0c8a1c" stroke="#005a10" stroke-width="0.7"/>
<rect x="135.9" y="344.4" width="10.4" height="10.4" fill="#0c8a1c" stroke="#005a10" stroke-width="0.7"/>
<rect x="160.9" y="368.8" width="10.4" height="10.4" fill="#0c8a1c" stroke="#005a10" stroke-width="0.7"/>
<rect x="180.2" y="370.9" width="10.4" height="10.4" fill="#0c8a1c" stroke="#005a10" stroke-width="0.7"/>
<rect x="198.7" y="377.8" width="10.4" height="10.4" fill="#0c8a1c" stroke="#005a10" stroke-width="0.7"/>
<rect x="224.1" y="404.4" width="10.4" height="10.4" fill="#0c8a1c" stroke="#005a10" stroke-width="0.7"/>
<rect x="242.6" y="420.2" width="10.4" height="10.4" fill="#0c8a1c" stroke="#005a10" stroke-width="0.7"/>
<rect x="261.7" y="429.4" width="10.4" height="10.4" fill="#0c8a1c" stroke="#005a10" stroke-width="0.7"/>
<rect x="286.8" y="453.8" width="10.4" height="10.4" fill="#0c8a1c" stroke="#005a10" stroke-width="0.7"/>
<rect x="305.9" y="477.3" width="10.4" height="10.4" fill="#0c8a1c" stroke="#005a10" stroke-width="0.7"/>
<rect x="336" y="499.3" width="10.4" height="10.4" fill="#0c8a1c" stroke="#005a10" stroke-width="0.7"/>
<rect x="368.6" y="524.3" width="10.4" height="10.4" fill="#0c8a1c" stroke="#005a10" stroke-width="0.7"/>
<rect x="399.2" y="564.1" width="10.4" height="10.4" fill="#0c8a1c" stroke="#005a10" stroke-width="0.7"/>
<rect x="432" y="595.7" width="10.4" height="10.4" fill="#0c8a1c" stroke="#005a10" stroke-width="0.7"/>
<rect x="461.8" y="608.6" width="10.4" height="10.4" fill="#0c8a1c" stroke="#005a10" stroke-width="0.7"/>
<circle cx="78.1" cy="456.3" r="4.9" fill="#f80c0c" stroke="#c80000" stroke-width="0.7"/>
<circle cx="103.7" cy="458.7" r="4.9" fill="#f80c0c" stroke="#c80000" stroke-width="0.7"/>
<circle cx="121.9" cy="462" r="4.9" fill="#f80c0c" stroke="#c80000" stroke-width="0.7"/>
<circle cx="141.2" cy="470.4" r="4.9" fill="#f80c0c" stroke="#c80000" stroke-width="0.7"/>
<circle cx="166" cy="480.2" r="4.9" fill="#f80c0c" stroke="#c80000" stroke-width="0.7"/>
<circle cx="185" cy="493.7" r="4.9" fill="#f80c0c" stroke="#c80000" stroke-width="0.7"/>
<circle cx="203.8" cy="504.6" r="4.9" fill="#f80c0c" stroke="#c80000" stroke-width="0.7"/>
<circle cx="229.2" cy="522.5" r="4.9" fill="#f80c0c" stroke="#c80000" stroke-width="0.7"/>
<circle cx="247.7" cy="534.2" r="4.9" fill="#f80c0c" stroke="#c80000" stroke-width="0.7"/>
<circle cx="266.8" cy="552" r="4.9" fill="#f80c0c" stroke="#c80000" stroke-width="0.7"/>
<circle cx="292.2" cy="576.5" r="4.9" fill="#f80c0c" stroke="#c80000" stroke-width="0.7"/>
<circle cx="311.2" cy="585" r="4.9" fill="#f80c0c" stroke="#c80000" stroke-width="0.7"/>
<circle cx="341.6" cy="612.5" r="4.9" fill="#f80c0c" stroke="#c80000" stroke-width="0.7"/>
<circle cx="374" cy="632" r="4.9" fill="#f80c0c" stroke="#c80000" stroke-width="0.7"/>
<circle cx="404.2" cy="661.5" r="4.9" fill="#f80c0c" stroke="#c80000" stroke-width="0.7"/>
<circle cx="437" cy="678.5" r="4.9" fill="#f80c0c" stroke="#c80000" stroke-width="0.7"/>
<circle cx="467" cy="693" r="4.9" fill="#f80c0c" stroke="#c80000" stroke-width="0.7"/>
<circle cx="499.8" cy="711.8" r="4.9" fill="#f80c0c" stroke="#c80000" stroke-width="0.7"/>
<path d="M78 554.6L84.5 561.3L78 568L71.5 561.3Z" fill="#000000" stroke="#000000" stroke-width="0.7"/>
<path d="M103.6 561L110.1 567.7L103.6 574.4L97.1 567.7Z" fill="#000000" stroke="#000000" stroke-width="0.7"/>
<path d="M121.9 566.2L128.4 572.9L121.9 579.6L115.4 572.9Z" fill="#000000" stroke="#000000" stroke-width="0.7"/>
<path d="M141.2 580.6L147.7 587.3L141.2 594L134.7 587.3Z" fill="#000000" stroke="#000000" stroke-width="0.7"/>
<path d="M165.7 584.3L172.2 591L165.7 597.7L159.2 591Z" fill="#000000" stroke="#000000" stroke-width="0.7"/>
<path d="M185 597.7L191.5 604.4L185 611.1L178.5 604.4Z" fill="#000000" stroke="#000000" stroke-width="0.7"/>
<path d="M203.8 613.1L210.3 619.8L203.8 626.5L197.3 619.8Z" fill="#000000" stroke="#000000" stroke-width="0.7"/>
<path d="M229.2 630.5L235.7 637.2L229.2 643.9L222.7 637.2Z" fill="#000000" stroke="#000000" stroke-width="0.7"/>
<path d="M247.7 649.3L254.2 656L247.7 662.7L241.2 656Z" fill="#000000" stroke="#000000" stroke-width="0.7"/>
<path d="M266.9 654.5L273.4 661.2L266.9 667.9L260.4 661.2Z" fill="#000000" stroke="#000000" stroke-width="0.7"/>
<path d="M291.9 662.7L298.4 669.4L291.9 676.1L285.4 669.4Z" fill="#000000" stroke="#000000" stroke-width="0.7"/>
<path d="M310.9 684.5L317.4 691.2L310.9 697.9L304.4 691.2Z" fill="#000000" stroke="#000000" stroke-width="0.7"/>
<path d="M341.2 686.3L347.7 693L341.2 699.7L334.7 693Z" fill="#000000" stroke="#000000" stroke-width="0.7"/>
<path d="M374.2 696.6L380.7 703.3L374.2 710L367.7 703.3Z" fill="#000000" stroke="#000000" stroke-width="0.7"/>
<path d="M404.2 695.6L410.7 702.3L404.2 709L397.7 702.3Z" fill="#000000" stroke="#000000" stroke-width="0.7"/>
<path d="M437 709.1L443.5 715.8L437 722.5L430.5 715.8Z" fill="#000000" stroke="#000000" stroke-width="0.7"/>
<path d="M466.7 705L473.2 711.7L466.7 718.4L460.2 711.7Z" fill="#000000" stroke="#000000" stroke-width="0.7"/>
<circle cx="77.4" cy="616.6" r="4.9" fill="#6a1ee0" stroke="#4a10a8" stroke-width="0.7"/>
<circle cx="103" cy="609.5" r="4.9" fill="#6a1ee0" stroke="#4a10a8" stroke-width="0.7"/>
<circle cx="122" cy="633" r="4.9" fill="#6a1ee0" stroke="#4a10a8" stroke-width="0.7"/>
<circle cx="141" cy="633.8" r="4.9" fill="#6a1ee0" stroke="#4a10a8" stroke-width="0.7"/>
<circle cx="165.8" cy="653" r="4.9" fill="#6a1ee0" stroke="#4a10a8" stroke-width="0.7"/>
<circle cx="185" cy="652.5" r="4.9" fill="#6a1ee0" stroke="#4a10a8" stroke-width="0.7"/>
<circle cx="203.8" cy="678" r="4.9" fill="#6a1ee0" stroke="#4a10a8" stroke-width="0.7"/>
<circle cx="229.2" cy="682.3" r="4.9" fill="#6a1ee0" stroke="#4a10a8" stroke-width="0.7"/>
<circle cx="247.6" cy="688.7" r="4.9" fill="#6a1ee0" stroke="#4a10a8" stroke-width="0.7"/>
<circle cx="266.8" cy="695" r="4.9" fill="#6a1ee0" stroke="#4a10a8" stroke-width="0.7"/>
<circle cx="291.8" cy="712" r="4.9" fill="#6a1ee0" stroke="#4a10a8" stroke-width="0.7"/>
<circle cx="311" cy="708.5" r="4.9" fill="#6a1ee0" stroke="#4a10a8" stroke-width="0.7"/>
<circle cx="341.2" cy="711" r="4.9" fill="#6a1ee0" stroke="#4a10a8" stroke-width="0.7"/>
<circle cx="374.2" cy="716.3" r="4.9" fill="#6a1ee0" stroke="#4a10a8" stroke-width="0.7"/>
<circle cx="404.2" cy="712.5" r="4.9" fill="#6a1ee0" stroke="#4a10a8" stroke-width="0.7"/>
<rect x="72.8" y="651.1" width="10.4" height="10.4" fill="#cc6812" stroke="#a04c08" stroke-width="0.7"/>
<rect x="98.4" y="688.3" width="10.4" height="10.4" fill="#cc6812" stroke="#a04c08" stroke-width="0.7"/>
<rect x="116.7" y="684.4" width="10.4" height="10.4" fill="#cc6812" stroke="#a04c08" stroke-width="0.7"/>
<rect x="136" y="681" width="10.4" height="10.4" fill="#cc6812" stroke="#a04c08" stroke-width="0.7"/>
<rect x="160.8" y="691.8" width="10.4" height="10.4" fill="#cc6812" stroke="#a04c08" stroke-width="0.7"/>
<rect x="180" y="687.8" width="10.4" height="10.4" fill="#cc6812" stroke="#a04c08" stroke-width="0.7"/>
<rect x="198.6" y="701.3" width="10.4" height="10.4" fill="#cc6812" stroke="#a04c08" stroke-width="0.7"/>
<rect x="224" y="709" width="10.4" height="10.4" fill="#cc6812" stroke="#a04c08" stroke-width="0.7"/>
<rect x="242.4" y="708.4" width="10.4" height="10.4" fill="#cc6812" stroke="#a04c08" stroke-width="0.7"/>
<rect x="261.6" y="714.8" width="10.4" height="10.4" fill="#cc6812" stroke="#a04c08" stroke-width="0.7"/>
<rect x="286.6" y="711.8" width="10.4" height="10.4" fill="#cc6812" stroke="#a04c08" stroke-width="0.7"/>
<rect x="305.8" y="720.8" width="10.4" height="10.4" fill="#cc6812" stroke="#a04c08" stroke-width="0.7"/>
<rect x="336" y="722.5" width="10.4" height="10.4" fill="#cc6812" stroke="#a04c08" stroke-width="0.7"/>
<rect x="369" y="724" width="10.4" height="10.4" fill="#cc6812" stroke="#a04c08" stroke-width="0.7"/>
<path d="M71.7 702L84.3 702L78 712.6Z" fill="#800c0c" stroke="#600000" stroke-width="0.7"/>
<path d="M97.3 710.8L109.9 710.8L103.6 721.4Z" fill="#800c0c" stroke="#600000" stroke-width="0.7"/>
<path d="M115.6 721.7L128.2 721.7L121.9 732.3Z" fill="#800c0c" stroke="#600000" stroke-width="0.7"/>
<path d="M134.9 718.5L147.5 718.5L141.2 729.1Z" fill="#800c0c" stroke="#600000" stroke-width="0.7"/>
<path d="M159.7 717.5L172.3 717.5L166 728.1Z" fill="#800c0c" stroke="#600000" stroke-width="0.7"/>
<path d="M178.9 733.5L191.5 733.5L185.2 744.1Z" fill="#800c0c" stroke="#600000" stroke-width="0.7"/>
<path d="M197.5 737.3L210.1 737.3L203.8 747.9Z" fill="#800c0c" stroke="#600000" stroke-width="0.7"/>
<path d="M222.9 742.5L235.5 742.5L229.2 753.1Z" fill="#800c0c" stroke="#600000" stroke-width="0.7"/>
<path d="M241.3 737.3L253.9 737.3L247.6 747.9Z" fill="#800c0c" stroke="#600000" stroke-width="0.7"/>
<path d="M260.5 752.7L273.1 752.7L266.8 763.3Z" fill="#800c0c" stroke="#600000" stroke-width="0.7"/>
<path d="M285.5 746.3L298.1 746.3L291.8 756.9Z" fill="#800c0c" stroke="#600000" stroke-width="0.7"/>
<path d="M304.7 745.4L317.3 745.4L311 756Z" fill="#800c0c" stroke="#600000" stroke-width="0.7"/>
<path d="M334.9 746.2L347.5 746.2L341.2 756.8Z" fill="#800c0c" stroke="#600000" stroke-width="0.7"/>
<path d="M367.9 756.2L380.5 756.2L374.2 766.8Z" fill="#800c0c" stroke="#600000" stroke-width="0.7"/>
<path d="M69.6 38.9L81.4 38.9L81.4 27.1Z" fill="#fff" stroke="#e0692a" stroke-width="1.3"/>
<path d="M85.79 783.9V779.9M85.79 4.8V8.8M98.37 783.9V779.9M98.37 4.8V8.8M110.96 783.9V779.9M110.96 4.8V8.8M123.54 783.9V779.9M123.54 4.8V8.8M136.13 783.9V776.4M136.13 4.8V12.3M148.71 783.9V779.9M148.71 4.8V8.8M161.3 783.9V779.9M161.3 4.8V8.8M173.89 783.9V779.9M173.89 4.8V8.8M186.47 783.9V779.9M186.47 4.8V8.8M199.06 783.9V776.4M199.06 4.8V12.3M211.64 783.9V779.9M211.64 4.8V8.8M224.23 783.9V779.9M224.23 4.8V8.8M236.81 783.9V779.9M236.81 4.8V8.8M249.4 783.9V779.9M249.4 4.8V8.8M261.99 783.9V776.4M261.99 4.8V12.3M274.57 783.9V779.9M274.57 4.8V8.8M287.16 783.9V779.9M287.16 4.8V8.8M299.74 783.9V779.9M299.74 4.8V8.8M312.33 783.9V779.9M312.33 4.8V8.8M324.91 783.9V776.4M324.91 4.8V12.3M337.5 783.9V779.9M337.5 4.8V8.8M350.09 783.9V779.9M350.09 4.8V8.8M362.67 783.9V779.9M362.67 4.8V8.8M375.26 783.9V779.9M375.26 4.8V8.8M387.84 783.9V776.4M387.84 4.8V12.3M400.43 783.9V779.9M400.43 4.8V8.8M413.01 783.9V779.9M413.01 4.8V8.8M425.6 783.9V779.9M425.6 4.8V8.8M438.19 783.9V779.9M438.19 4.8V8.8M450.77 783.9V776.4M450.77 4.8V12.3M463.36 783.9V779.9M463.36 4.8V8.8M475.94 783.9V779.9M475.94 4.8V8.8M488.53 783.9V779.9M488.53 4.8V8.8M501.11 783.9V779.9M501.11 4.8V8.8M73.2 763.6H77.2M513.7 763.6H509.7M73.2 743.1H77.2M513.7 743.1H509.7M73.2 722.6H80.7M513.7 722.6H506.2M73.2 702.1H77.2M513.7 702.1H509.7M73.2 681.6H77.2M513.7 681.6H509.7M73.2 661.1H77.2M513.7 661.1H509.7M73.2 640.6H77.2M513.7 640.6H509.7M73.2 620.1H80.7M513.7 620.1H506.2M73.2 599.6H77.2M513.7 599.6H509.7M73.2 579.1H77.2M513.7 579.1H509.7M73.2 558.6H77.2M513.7 558.6H509.7M73.2 538.1H77.2M513.7 538.1H509.7M73.2 517.6H80.7M513.7 517.6H506.2M73.2 497.1H77.2M513.7 497.1H509.7M73.2 476.6H77.2M513.7 476.6H509.7M73.2 456.1H77.2M513.7 456.1H509.7M73.2 435.6H77.2M513.7 435.6H509.7M73.2 415.1H80.7M513.7 415.1H506.2M73.2 394.6H77.2M513.7 394.6H509.7M73.2 374.1H77.2M513.7 374.1H509.7M73.2 353.6H77.2M513.7 353.6H509.7M73.2 333.1H77.2M513.7 333.1H509.7M73.2 312.6H80.7M513.7 312.6H506.2M73.2 292.1H77.2M513.7 292.1H509.7M73.2 271.6H77.2M513.7 271.6H509.7M73.2 251.1H77.2M513.7 251.1H509.7M73.2 230.6H77.2M513.7 230.6H509.7M73.2 210.1H80.7M513.7 210.1H506.2M73.2 189.6H77.2M513.7 189.6H509.7M73.2 169.1H77.2M513.7 169.1H509.7M73.2 148.6H77.2M513.7 148.6H509.7M73.2 128.1H77.2M513.7 128.1H509.7M73.2 107.6H80.7M513.7 107.6H506.2M73.2 87.1H77.2M513.7 87.1H509.7M73.2 66.6H77.2M513.7 66.6H509.7M73.2 46.1H77.2M513.7 46.1H509.7M73.2 25.6H77.2M513.7 25.6H509.7" stroke="#000" stroke-width="2" fill="none"/>
<rect x="73.2" y="4.8" width="440.5" height="779.1" fill="none" stroke="#000" stroke-width="2"/>
<path d="M77.3 608.5L258.5 5" stroke="#000" stroke-width="2.9" stroke-dasharray="5.8 4.43" stroke-dashoffset="-0.3" fill="none"/>
<path d="M224.8 142.8H240.4V86.2Z" fill="none" stroke="#000" stroke-width="1.5" stroke-linejoin="miter"/>
<g font-family="'Liberation Sans', Arial, Helvetica, sans-serif" font-weight="bold" font-size="16.5" fill="#000">
<text x="61.3" y="731.8" text-anchor="end">0</text>
<text x="61.3" y="629.3" text-anchor="end">10</text>
<text x="61.3" y="526.8" text-anchor="end">20</text>
<text x="61.3" y="424.3" text-anchor="end">30</text>
<text x="61.3" y="321.8" text-anchor="end">40</text>
<text x="61.3" y="219.3" text-anchor="end">50</text>
<text x="61.3" y="116.8" text-anchor="end">60</text>
<text x="61.3" y="14.3" text-anchor="end">70</text>
<text x="73.2" y="810.6" text-anchor="middle">-2</text>
<text x="136.13" y="810.6" text-anchor="middle">-1</text>
<text x="199.06" y="810.6" text-anchor="middle">0</text>
<text x="261.99" y="810.6" text-anchor="middle">1</text>
<text x="324.91" y="810.6" text-anchor="middle">2</text>
<text x="387.84" y="810.6" text-anchor="middle">3</text>
<text x="450.77" y="810.6" text-anchor="middle">4</text>
<text x="513.7" y="810.6" text-anchor="middle">5</text>
</g>
<text font-family="'Liberation Sans', Arial, Helvetica, sans-serif" font-weight="bold" font-size="22" x="256.8" y="846.6">log t<tspan font-size="16" dy="7.5">a</tspan><tspan dy="-7.5">/s</tspan></text>
<text font-family="'Liberation Sans', Arial, Helvetica, sans-serif" font-weight="bold" font-size="20.5" transform="translate(17.6 441.3) rotate(-90) scale(1.075 1.1)">T<tspan font-size="12.5" dy="5.5">f</tspan><tspan dy="-5.5"> - T</tspan><tspan font-size="12.5" dy="5.5">a</tspan><tspan dy="-5.5"> (K)</tspan></text>
<text font-family="'Liberation Sans', Arial, Helvetica, sans-serif" font-weight="bold" font-size="16" x="402.2" y="29.6" textLength="98" lengthAdjust="spacingAndGlyphs">q = 1000 K/s</text>
<text font-family="'Liberation Sans', Arial, Helvetica, sans-serif" font-weight="bold" font-size="17.5" x="446.7" y="124.6">T<tspan font-size="11" dy="5">a</tspan><tspan dy="-5"> (°C)</tspan></text>
<text font-family="'Liberation Sans', Arial, Helvetica, sans-serif" font-weight="bold" font-size="16" x="245.8" y="137.8" textLength="99" lengthAdjust="spacingAndGlyphs">20 K/decade</text>
<text font-family="'Liberation Sans', Arial, Helvetica, sans-serif" font-weight="bold" font-size="16.5" x="456.2" y="227.6" fill="#e8671c" textLength="31.5" lengthAdjust="spacingAndGlyphs">50.5</text>
<text font-family="'Liberation Sans', Arial, Helvetica, sans-serif" font-weight="bold" font-size="16.5" x="456.9" y="360" fill="#1e9bd6" textLength="32.6" lengthAdjust="spacingAndGlyphs">60.5</text>
<text font-family="'Liberation Sans', Arial, Helvetica, sans-serif" font-weight="bold" font-size="16.5" x="459.8" y="452.4" fill="#0c0cb4" textLength="31.7" lengthAdjust="spacingAndGlyphs">70.5</text>
<text font-family="'Liberation Sans', Arial, Helvetica, sans-serif" font-weight="bold" font-size="16.5" x="459.4" y="573.5" fill="#0c7a1e" textLength="31.6" lengthAdjust="spacingAndGlyphs">80.5</text>
<text font-family="'Liberation Sans', Arial, Helvetica, sans-serif" font-weight="bold" font-size="16.5" x="458.9" y="671.5" fill="#e81818" textLength="32.3" lengthAdjust="spacingAndGlyphs">90.5</text>
<text font-family="'Liberation Sans', Arial, Helvetica, sans-serif" font-weight="bold" font-size="16.5" x="451.4" y="740.5" fill="#000000" textLength="39.6" lengthAdjust="spacingAndGlyphs">100.5</text>
<text font-family="'Liberation Sans', Arial, Helvetica, sans-serif" font-weight="bold" font-size="16.5" x="391.3" y="740.5" fill="#6a28d2" textLength="41.2" lengthAdjust="spacingAndGlyphs">105.5</text>
<text font-family="'Liberation Sans', Arial, Helvetica, sans-serif" font-weight="bold" font-size="16.5" x="391.3" y="757.5" fill="#c06a1e" textLength="41.2" lengthAdjust="spacingAndGlyphs">110.5</text>
<text font-family="'Liberation Sans', Arial, Helvetica, sans-serif" font-weight="bold" font-size="16.5" x="391.3" y="775.3" fill="#6a1010" textLength="41.2" lengthAdjust="spacingAndGlyphs">115.5</text>
</svg>
</body></html>
